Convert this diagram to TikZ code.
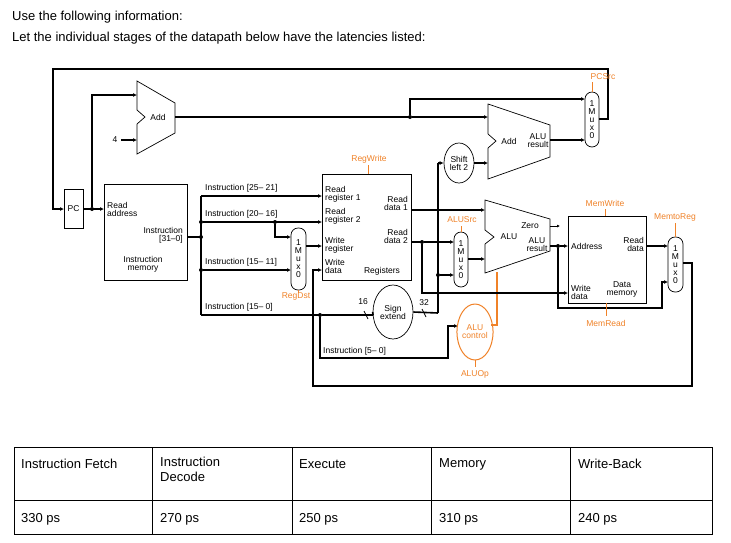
\documentclass[tikz,border=0pt]{standalone}
\usepackage{fontspec}
\setmainfont{Liberation Sans}
\usetikzlibrary{arrows.meta,shapes.geometric}
\definecolor{org}{RGB}{240,130,40}
\begin{document}
\begin{tikzpicture}[x=1pt,y=-1pt,
  w/.style={line width=1.6pt},
  a/.style={line width=1.6pt,-{Latex[length=4pt,width=4pt]}},
  box/.style={draw,line width=0.7pt},
  lab/.style={font=\fontsize{8.5}{9}\selectfont,inner sep=0pt,align=left},
  olab/.style={lab,text=org},
  o/.style={draw=org,line width=1pt},
  dot/.style={circle,fill,inner sep=0pt,minimum size=4pt},
  muxt/.style={font=\fontsize{8.5}{8}\selectfont,inner sep=0pt,align=center},
  tx/.style={font=\fontsize{13}{15}\selectfont,inner sep=0pt,anchor=west,align=left}]
\useasboundingbox (0,0) rectangle (731,542);
\fill[white] (0,0) rectangle (731,542);
\node[tx] (t1) at (12,17) {Use the following information:};
\node[tx] (t2) at (12,38) {Let the individual stages of the datapath below have the latencies listed:};
% top loop
\coordinate (pcin) at (64,209);
\draw[a] (599,119) -- (608,119) -- (608,69) -- (53,69) -- (53,209) -- (pcin);
% PC
\draw[box] (64,189) rectangle (83,228); \node[lab] (pc) at (73.5,208.5) {PC};
% inst memory
\draw[box] (104,184) rectangle (187,280);
\node[lab,anchor=north west] (ra) at (107,202) {Read\\[-1pt]address};
\node[lab,anchor=north east,align=right] (ins) at (183,227) {Instruction\\[-1pt][31--0]};
\node[lab,align=center] (im) at (143,264) {Instruction\\[-1pt]memory};
\draw[a] (83,209) -- (104,209);
\node[dot] (d1) at (92,209) {};
\draw[a] (d1) -- (92,95) -- (137,95);
% Add 1
\draw[box] (137,81) -- (175,103) -- (175,133) -- (137,154) -- (137,124) -- (145,117) -- (137,110) -- cycle;
\node[lab] (add1) at (158,117) {Add};
\node[lab] (four) at (115,140) {4};
\draw[a] (121,140) -- (137,140);
\draw[w] (175,117) -- (410,117);
\node[dot] (d2) at (410,117) {};
\draw[a] (d2) -- (488,117);
\draw[a] (d2) -- (410,99) -- (585,99);
% PCSrc mux
\draw[box,rounded corners=7] (585,92) rectangle (599,147);
\node[muxt] (m1) at (592,119.5) {1\\M\\u\\x\\0};
\node[olab] (pcsrc) at (603,77) {PCSrc};
\draw[o] (592,82) -- (592,92);
% Add 2
\draw[box] (488,104) -- (550,125) -- (550,157) -- (488,179) -- (488,148) -- (496,141) -- (488,134) -- cycle;
\node[lab] (add2) at (509,141) {Add};
\node[lab,align=center] (alur1) at (538,141) {ALU\\[-1pt]result};
\draw[a] (550,140) -- (585,140);
% shift left 2
\node[draw,ellipse,line width=0.7pt,minimum width=30pt,minimum height=40pt,inner sep=0pt,muxt] (sh) at (459,163) {Shift\\left 2};
\draw[a] (sh.east) -- (488,163);
% Registers
\draw[box] (322,174) rectangle (411,280);
\node[olab] (rw) at (369,159) {RegWrite};
\draw[o] (368,165) -- (368,174);
\node[lab,anchor=north west] (rr1) at (325,186) {Read\\[-1pt]register 1};
\node[lab,anchor=north west] (rr2) at (325,208) {Read\\[-1pt]register 2};
\node[lab,anchor=north west] (wr) at (325,237) {Write\\[-1pt]register};
\node[lab,anchor=north west] (wd) at (325,259) {Write\\[-1pt]data};
\node[lab] (regs) at (382,271) {Registers};
\node[lab,anchor=north east,align=right] (rd1) at (408,196) {Read\\[-1pt]data 1};
\node[lab,anchor=north east,align=right] (rd2) at (408,229) {Read\\[-1pt]data 2};
% instruction bus
\draw[w] (187,237) -- (201,237);
\draw[w] (201,196) -- (201,315);
\node[dot] (b1) at (201,222) {}; \node[dot] (b2) at (201,237) {}; \node[dot] (b3) at (201,270) {};
\draw[a] (201,196) -- (322,196);
\node[lab,anchor=south west] (i1) at (205,192) {Instruction [25-- 21]};
\draw[a] (b1) -- (322,222);
\node[lab,anchor=south west] (i2) at (205,218) {Instruction [20-- 16]};
\node[dot] (b4) at (275,222) {};
\draw[a] (b4) -- (275,237) -- (291,237);
\draw[a] (b3) -- (291,270);
\node[lab,anchor=south west] (i3) at (205,266) {Instruction [15-- 11]};
\draw[w] (201,315) -- (320,315);
\node[lab,anchor=south west] (i4) at (205,311) {Instruction [15-- 0]};
\node[dot] (b5) at (320,315) {};
\draw[w] (b5) -- (373,315);
\draw[a] (b5) -- (320,358) -- (448,358) -- (448,326) -- (458,326);
\node[lab,anchor=south west] (i5) at (323,355) {Instruction [5-- 0]};
% RegDst mux
\draw[box,rounded corners=7] (291,228) rectangle (306,290);
\node[muxt] (m2) at (298.5,259) {1\\M\\u\\x\\0};
\draw[a] (306,246) -- (322,246);
\node[olab] (rdst) at (296,296) {RegDst};
\draw[o] (298.5,290) -- (298.5,293);
% write data loop
\draw[a] (683,263) -- (692,263) -- (692,386) -- (313,386) -- (313,270) -- (322,270);
% sign extend
\node[draw,ellipse,line width=0.7pt,minimum width=40pt,minimum height=54pt,inner sep=0pt,muxt] (se) at (393,312) {Sign\\extend};
\draw[w] (373,315) -- (se.west);
\node[lab] (s16) at (363,302) {16};
\draw[line width=0.7pt] (364,311) -- (368,319);
\node[lab] (s32) at (424,303) {32};
\draw[line width=0.7pt] (422,309) -- (426,317);
\draw[w] (se.east) -- (438,313);
\draw[w] (438,313) -- (438,163);
\draw[a] (438,163) -- (sh.west);
\node[dot] (d5) at (438,275) {};
\draw[a] (d5) -- (454,275);
% ALU control
\node[draw=org,ellipse,line width=1pt,minimum width=32pt,minimum height=56pt,inner sep=0pt,muxt,text=org] (ac) at (475,332) {ALU\\control};
\draw[o,line width=1.6pt] (491,325) -- (497,325) -- (497,272);
\node[olab] (aluop) at (475,374) {ALUOp};
\draw[o] (475,360) -- (475,367);
% ALU
\draw[box] (485,200) -- (550,219) -- (550,251) -- (485,273) -- (485,244) -- (494,237) -- (485,230) -- cycle;
\node[lab] (alu) at (509,237) {ALU};
\node[lab] (zero) at (530,226) {Zero};
\node[lab,align=center] (alur2) at (537,245) {ALU\\[-1pt]result};
\draw[-{Latex[length=3pt,width=3pt]},line width=0.6pt] (550,226) -- (560,226);
\draw[a] (411,210) -- (485,210);
\draw[w] (411,242) -- (422,242);
\node[dot] (d6) at (422,242) {};
\draw[a] (d6) -- (454,242);
\draw[a] (d6) -- (422,293) -- (568,293);
% ALUSrc mux
\draw[box,rounded corners=7] (454,232) rectangle (468,287);
\node[muxt] (m3) at (461,259.5) {1\\M\\u\\x\\0};
\node[olab] (alusrc) at (462,220) {ALUSrc};
\draw[o] (461,226) -- (461,232);
\draw[a] (468,259) -- (485,259);
% ALU result
\draw[w] (550,246) -- (558,246);
\node[dot] (d7) at (558,246) {};
\draw[a] (d7) -- (568,246);
\draw[a] (d7) -- (558,308) -- (662,308) -- (662,282) -- (668,282);
% Data memory
\draw[box] (568,216) rectangle (646,303);
\node[olab] (mw) at (605,203) {MemWrite};
\draw[o] (605,209) -- (605,216);
\node[olab] (mr) at (606,323) {MemRead};
\draw[o] (606,303) -- (606,316);
\node[lab,anchor=west] (addr) at (571,246) {Address};
\node[lab,anchor=north east,align=right] (rdd) at (644,237) {Read\\[-1pt]data};
\node[lab,anchor=north west] (wdd) at (571,285) {Write\\[-1pt]data};
\node[lab,align=center] (dm) at (622,289) {Data\\[-1pt]memory};
\draw[a] (646,246) -- (668,246);
% MemtoReg mux
\draw[box,rounded corners=7] (668,237) rectangle (683,292);
\node[muxt] (m4) at (675.5,264.5) {1\\M\\u\\x\\0};
\node[olab] (mtr) at (675,217) {MemtoReg};
\draw[o] (675.5,223) -- (675.5,237);
% table
\draw[line width=0.8pt] (14,447) rectangle (712,534);
\draw[line width=0.8pt] (14,500) -- (712,500);
\foreach \x in {152,292,431,570} \draw[line width=0.8pt] (\x,447) -- (\x,534);
\node[tx] (h1) at (21,464) {Instruction Fetch};
\node[tx,anchor=north west] (h2) at (160,457) {Instruction\\Decode};
\node[tx] (h3) at (299,464) {Execute};
\node[tx] (h4) at (439,464) {Memory};
\node[tx] (h5) at (578,464) {Write-Back};
\node[tx] (v1) at (21,519) {330 ps};
\node[tx] (v2) at (160,519) {270 ps};
\node[tx] (v3) at (299,519) {250 ps};
\node[tx] (v4) at (439,519) {310 ps};
\node[tx] (v5) at (578,519) {240 ps};
\end{tikzpicture}
\end{document}
